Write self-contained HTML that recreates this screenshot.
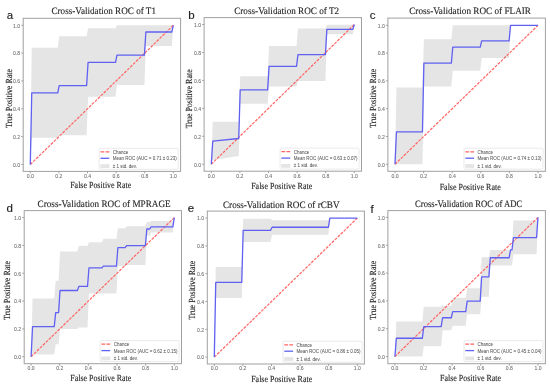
<!DOCTYPE html>
<html><head><meta charset="utf-8"><style>
html,body{margin:0;padding:0;background:#fff;width:550px;height:386px;overflow:hidden}
svg{display:block;will-change:transform}
.tk{font-family:"Liberation Sans",sans-serif;font-size:5.1px;fill:#707070;stroke:#707070;stroke-width:0.08}
.lg{font-family:"Liberation Sans",sans-serif;font-size:4.5px;fill:#555;stroke:#555;stroke-width:0.04}
.ti{font-family:"Liberation Serif",serif;font-size:9.8px;fill:#262626;stroke:#262626;stroke-width:0.14;text-rendering:geometricPrecision}
.xl{font-family:"Liberation Serif",serif;font-size:9.3px;fill:#262626;stroke:#262626;stroke-width:0.14;text-rendering:geometricPrecision}
.pl{font-family:"Liberation Sans",sans-serif;font-size:11.5px;fill:#222;stroke:#222;stroke-width:0.15}
</style></head><body>
<svg width="550" height="386" viewBox="0 0 550 386">
<polygon fill="#e5e5e5" points="30.30,164.50 31.74,47.71 57.74,47.71 59.19,36.30 86.63,36.30 88.08,28.22 115.52,28.22 116.97,25.30 144.41,25.30 145.86,25.30 171.86,25.30 173.30,25.30 173.30,25.30 171.86,45.90 145.86,45.90 144.41,85.02 116.97,85.02 115.52,96.71 88.08,96.71 86.63,135.13 59.19,135.13 57.74,137.63 31.74,137.63 30.30,164.50"/>
<line x1="30.30" y1="164.50" x2="173.30" y2="25.30" stroke="#ff6464" stroke-width="1.2" stroke-dasharray="2.9 1.2"/>
<polyline fill="none" stroke="#6060f2" stroke-width="1.3" stroke-linejoin="round" points="30.30,164.50 31.74,92.81 57.74,92.81 59.19,85.57 86.63,85.57 88.08,62.33 115.52,62.33 116.97,55.09 144.41,55.09 145.86,31.98 171.86,31.98 173.30,25.30"/>
<rect x="23.20" y="18.30" width="157.40" height="153.10" fill="none" stroke="#a0a0a0" stroke-width="1"/>
<line x1="30.30" y1="171.40" x2="30.30" y2="173.40" stroke="#909090" stroke-width="0.8"/>
<line x1="23.20" y1="164.50" x2="21.20" y2="164.50" stroke="#909090" stroke-width="0.8"/>
<text class="tk" x="30.30" y="177.70" text-anchor="middle">0.0</text>
<text class="tk" x="20.10" y="166.80" text-anchor="end">0.0</text>
<line x1="58.90" y1="171.40" x2="58.90" y2="173.40" stroke="#909090" stroke-width="0.8"/>
<line x1="23.20" y1="136.66" x2="21.20" y2="136.66" stroke="#909090" stroke-width="0.8"/>
<text class="tk" x="58.90" y="177.70" text-anchor="middle">0.2</text>
<text class="tk" x="20.10" y="138.96" text-anchor="end">0.2</text>
<line x1="87.50" y1="171.40" x2="87.50" y2="173.40" stroke="#909090" stroke-width="0.8"/>
<line x1="23.20" y1="108.82" x2="21.20" y2="108.82" stroke="#909090" stroke-width="0.8"/>
<text class="tk" x="87.50" y="177.70" text-anchor="middle">0.4</text>
<text class="tk" x="20.10" y="111.12" text-anchor="end">0.4</text>
<line x1="116.10" y1="171.40" x2="116.10" y2="173.40" stroke="#909090" stroke-width="0.8"/>
<line x1="23.20" y1="80.98" x2="21.20" y2="80.98" stroke="#909090" stroke-width="0.8"/>
<text class="tk" x="116.10" y="177.70" text-anchor="middle">0.6</text>
<text class="tk" x="20.10" y="83.28" text-anchor="end">0.6</text>
<line x1="144.70" y1="171.40" x2="144.70" y2="173.40" stroke="#909090" stroke-width="0.8"/>
<line x1="23.20" y1="53.14" x2="21.20" y2="53.14" stroke="#909090" stroke-width="0.8"/>
<text class="tk" x="144.70" y="177.70" text-anchor="middle">0.8</text>
<text class="tk" x="20.10" y="55.44" text-anchor="end">0.8</text>
<line x1="173.30" y1="171.40" x2="173.30" y2="173.40" stroke="#909090" stroke-width="0.8"/>
<line x1="23.20" y1="25.30" x2="21.20" y2="25.30" stroke="#909090" stroke-width="0.8"/>
<text class="tk" x="173.30" y="177.70" text-anchor="middle">1.0</text>
<text class="tk" x="20.10" y="27.60" text-anchor="end">1.0</text>
<rect x="99.20" y="148.30" width="79" height="21" rx="1" fill="#fff" fill-opacity="0.85" stroke="#dcdcdc" stroke-width="0.6"/>
<line x1="100.50" y1="151.90" x2="109.30" y2="151.90" stroke="#ff6464" stroke-width="1.2" stroke-dasharray="3.8 1.2"/>
<line x1="100.50" y1="158.30" x2="109.30" y2="158.30" stroke="#6060f2" stroke-width="1.3"/>
<rect x="100.40" y="164.20" width="9" height="3.8" fill="#e5e5e5"/>
<text class="lg" x="112.80" y="154.10">Chance</text>
<text class="lg" x="112.80" y="160.20">Mean ROC (AUC = 0.71 ± 0.23)</text>
<text class="lg" x="112.80" y="167.60">± 1 std. dev.</text>
<text class="ti" x="51.50" y="13.90" textLength="104.50" lengthAdjust="spacingAndGlyphs">Cross-Validation ROC of T1</text>
<text class="xl" x="70.20" y="187.90" textLength="61" lengthAdjust="spacingAndGlyphs">False Positive Rate</text>
<text class="xl" transform="translate(12.00 128.00) rotate(-90)" textLength="59" lengthAdjust="spacingAndGlyphs">True Positive Rate</text>
<text class="pl" x="6.80" y="19.40">a</text>
<polygon fill="#e5e5e5" points="211.30,164.20 212.74,121.87 238.74,121.87 240.19,76.19 267.63,76.19 269.08,46.01 296.52,46.01 297.97,28.41 325.41,28.41 326.86,24.78 352.86,24.78 354.30,24.50 354.30,24.50 352.86,34.28 326.86,34.28 325.41,81.08 297.97,81.08 296.52,86.53 269.08,86.53 267.63,103.71 240.19,103.71 238.74,156.10 212.74,160.01 211.30,164.20"/>
<line x1="211.30" y1="164.20" x2="354.30" y2="24.50" stroke="#ff6464" stroke-width="1.2" stroke-dasharray="2.9 1.2"/>
<polyline fill="none" stroke="#6060f2" stroke-width="1.3" stroke-linejoin="round" points="211.30,164.20 212.74,141.15 238.74,138.50 240.19,89.88 267.63,89.88 269.08,66.41 296.52,66.41 297.97,54.68 325.41,54.68 326.86,29.39 352.86,29.39 354.30,24.50"/>
<rect x="204.10" y="17.60" width="157.40" height="153.60" fill="none" stroke="#a0a0a0" stroke-width="1"/>
<line x1="211.30" y1="171.20" x2="211.30" y2="173.20" stroke="#909090" stroke-width="0.8"/>
<line x1="204.10" y1="164.20" x2="202.10" y2="164.20" stroke="#909090" stroke-width="0.8"/>
<text class="tk" x="211.30" y="177.50" text-anchor="middle">0.0</text>
<text class="tk" x="201.00" y="166.50" text-anchor="end">0.0</text>
<line x1="239.90" y1="171.20" x2="239.90" y2="173.20" stroke="#909090" stroke-width="0.8"/>
<line x1="204.10" y1="136.26" x2="202.10" y2="136.26" stroke="#909090" stroke-width="0.8"/>
<text class="tk" x="239.90" y="177.50" text-anchor="middle">0.2</text>
<text class="tk" x="201.00" y="138.56" text-anchor="end">0.2</text>
<line x1="268.50" y1="171.20" x2="268.50" y2="173.20" stroke="#909090" stroke-width="0.8"/>
<line x1="204.10" y1="108.32" x2="202.10" y2="108.32" stroke="#909090" stroke-width="0.8"/>
<text class="tk" x="268.50" y="177.50" text-anchor="middle">0.4</text>
<text class="tk" x="201.00" y="110.62" text-anchor="end">0.4</text>
<line x1="297.10" y1="171.20" x2="297.10" y2="173.20" stroke="#909090" stroke-width="0.8"/>
<line x1="204.10" y1="80.38" x2="202.10" y2="80.38" stroke="#909090" stroke-width="0.8"/>
<text class="tk" x="297.10" y="177.50" text-anchor="middle">0.6</text>
<text class="tk" x="201.00" y="82.68" text-anchor="end">0.6</text>
<line x1="325.70" y1="171.20" x2="325.70" y2="173.20" stroke="#909090" stroke-width="0.8"/>
<line x1="204.10" y1="52.44" x2="202.10" y2="52.44" stroke="#909090" stroke-width="0.8"/>
<text class="tk" x="325.70" y="177.50" text-anchor="middle">0.8</text>
<text class="tk" x="201.00" y="54.74" text-anchor="end">0.8</text>
<line x1="354.30" y1="171.20" x2="354.30" y2="173.20" stroke="#909090" stroke-width="0.8"/>
<line x1="204.10" y1="24.50" x2="202.10" y2="24.50" stroke="#909090" stroke-width="0.8"/>
<text class="tk" x="354.30" y="177.50" text-anchor="middle">1.0</text>
<text class="tk" x="201.00" y="26.80" text-anchor="end">1.0</text>
<rect x="280.10" y="148.10" width="79" height="21" rx="1" fill="#fff" fill-opacity="0.85" stroke="#dcdcdc" stroke-width="0.6"/>
<line x1="281.40" y1="151.70" x2="290.20" y2="151.70" stroke="#ff6464" stroke-width="1.2" stroke-dasharray="3.8 1.2"/>
<line x1="281.40" y1="158.10" x2="290.20" y2="158.10" stroke="#6060f2" stroke-width="1.3"/>
<rect x="281.30" y="164.00" width="9" height="3.8" fill="#e5e5e5"/>
<text class="lg" x="293.70" y="153.90">Chance</text>
<text class="lg" x="293.70" y="160.00">Mean ROC (AUC = 0.63 ± 0.07)</text>
<text class="lg" x="293.70" y="167.40">± 1 std. dev.</text>
<text class="ti" x="234.20" y="13.90" textLength="105.00" lengthAdjust="spacingAndGlyphs">Cross-Validation ROC of T2</text>
<text class="xl" x="251.20" y="189.10" textLength="61" lengthAdjust="spacingAndGlyphs">False Positive Rate</text>
<text class="xl" transform="translate(192.40 128.30) rotate(-90)" textLength="59" lengthAdjust="spacingAndGlyphs">True Positive Rate</text>
<text class="pl" x="188.20" y="19.40">b</text>
<polygon fill="#e5e5e5" points="395.00,164.30 396.44,87.57 422.44,87.57 423.89,39.34 451.33,39.34 452.78,25.30 480.22,25.30 481.67,25.30 509.11,25.30 510.56,25.30 536.56,25.30 538.00,25.30 538.00,25.30 536.56,25.30 510.56,25.30 509.11,57.97 481.67,57.97 480.22,70.75 452.78,70.75 451.33,86.60 423.89,86.60 422.44,164.30 396.44,164.30 395.00,164.30"/>
<line x1="395.00" y1="164.30" x2="538.00" y2="25.30" stroke="#ff6464" stroke-width="1.2" stroke-dasharray="2.9 1.2"/>
<polyline fill="none" stroke="#6060f2" stroke-width="1.3" stroke-linejoin="round" points="395.00,164.30 396.44,131.91 422.44,131.91 423.89,63.11 451.33,63.11 452.78,47.12 480.22,47.12 481.67,40.87 509.11,40.87 510.56,25.30 536.56,25.30 538.00,25.30"/>
<rect x="387.90" y="18.10" width="157.50" height="153.20" fill="none" stroke="#a0a0a0" stroke-width="1"/>
<line x1="395.00" y1="171.30" x2="395.00" y2="173.30" stroke="#909090" stroke-width="0.8"/>
<line x1="387.90" y1="164.30" x2="385.90" y2="164.30" stroke="#909090" stroke-width="0.8"/>
<text class="tk" x="395.00" y="177.60" text-anchor="middle">0.0</text>
<text class="tk" x="384.80" y="166.60" text-anchor="end">0.0</text>
<line x1="423.60" y1="171.30" x2="423.60" y2="173.30" stroke="#909090" stroke-width="0.8"/>
<line x1="387.90" y1="136.50" x2="385.90" y2="136.50" stroke="#909090" stroke-width="0.8"/>
<text class="tk" x="423.60" y="177.60" text-anchor="middle">0.2</text>
<text class="tk" x="384.80" y="138.80" text-anchor="end">0.2</text>
<line x1="452.20" y1="171.30" x2="452.20" y2="173.30" stroke="#909090" stroke-width="0.8"/>
<line x1="387.90" y1="108.70" x2="385.90" y2="108.70" stroke="#909090" stroke-width="0.8"/>
<text class="tk" x="452.20" y="177.60" text-anchor="middle">0.4</text>
<text class="tk" x="384.80" y="111.00" text-anchor="end">0.4</text>
<line x1="480.80" y1="171.30" x2="480.80" y2="173.30" stroke="#909090" stroke-width="0.8"/>
<line x1="387.90" y1="80.90" x2="385.90" y2="80.90" stroke="#909090" stroke-width="0.8"/>
<text class="tk" x="480.80" y="177.60" text-anchor="middle">0.6</text>
<text class="tk" x="384.80" y="83.20" text-anchor="end">0.6</text>
<line x1="509.40" y1="171.30" x2="509.40" y2="173.30" stroke="#909090" stroke-width="0.8"/>
<line x1="387.90" y1="53.10" x2="385.90" y2="53.10" stroke="#909090" stroke-width="0.8"/>
<text class="tk" x="509.40" y="177.60" text-anchor="middle">0.8</text>
<text class="tk" x="384.80" y="55.40" text-anchor="end">0.8</text>
<line x1="538.00" y1="171.30" x2="538.00" y2="173.30" stroke="#909090" stroke-width="0.8"/>
<line x1="387.90" y1="25.30" x2="385.90" y2="25.30" stroke="#909090" stroke-width="0.8"/>
<text class="tk" x="538.00" y="177.60" text-anchor="middle">1.0</text>
<text class="tk" x="384.80" y="27.60" text-anchor="end">1.0</text>
<rect x="464.00" y="148.20" width="79" height="21" rx="1" fill="#fff" fill-opacity="0.85" stroke="#dcdcdc" stroke-width="0.6"/>
<line x1="465.30" y1="151.80" x2="474.10" y2="151.80" stroke="#ff6464" stroke-width="1.2" stroke-dasharray="3.8 1.2"/>
<line x1="465.30" y1="158.20" x2="474.10" y2="158.20" stroke="#6060f2" stroke-width="1.3"/>
<rect x="465.20" y="164.10" width="9" height="3.8" fill="#e5e5e5"/>
<text class="lg" x="477.60" y="154.00">Chance</text>
<text class="lg" x="477.60" y="160.10">Mean ROC (AUC = 0.74 ± 0.13)</text>
<text class="lg" x="477.60" y="167.50">± 1 std. dev.</text>
<text class="ti" x="409.20" y="13.90" textLength="121.80" lengthAdjust="spacingAndGlyphs">Cross-Validation ROC of FLAIR</text>
<text class="xl" x="439.70" y="189.60" textLength="61" lengthAdjust="spacingAndGlyphs">False Positive Rate</text>
<text class="xl" transform="translate(375.50 127.80) rotate(-90)" textLength="59" lengthAdjust="spacingAndGlyphs">True Positive Rate</text>
<text class="pl" x="369.80" y="19.40">c</text>
<polygon fill="#e5e5e5" points="31.10,356.70 32.55,298.56 54.24,298.56 55.69,280.75 58.58,280.75 60.03,251.54 77.39,251.54 78.83,245.84 87.51,245.84 88.96,242.36 101.98,242.36 103.42,238.74 116.44,238.74 117.89,228.31 125.12,228.31 126.57,226.36 145.37,226.36 146.82,222.05 149.71,222.05 151.16,220.94 172.85,220.94 174.30,217.60 174.30,217.60 172.85,232.62 151.16,232.62 149.71,235.68 146.82,235.68 145.37,264.89 126.57,264.89 125.12,266.28 117.89,266.28 116.44,293.55 103.42,293.55 101.98,293.55 88.96,293.55 87.51,327.49 78.83,327.49 77.39,328.88 60.03,328.88 58.58,344.18 55.69,344.18 54.24,354.61 32.55,354.61 31.10,356.70"/>
<line x1="31.10" y1="356.70" x2="174.30" y2="217.60" stroke="#ff6464" stroke-width="1.2" stroke-dasharray="2.9 1.2"/>
<polyline fill="none" stroke="#6060f2" stroke-width="1.3" stroke-linejoin="round" points="31.10,356.70 32.55,326.65 54.24,326.65 55.69,312.61 58.58,312.61 60.03,290.49 77.39,290.49 78.83,286.45 87.51,286.45 88.96,267.95 101.98,267.95 103.42,266.15 116.44,266.15 117.89,247.65 125.12,247.65 126.57,245.56 145.37,245.56 146.82,229.01 149.71,229.01 151.16,226.78 172.85,226.78 174.30,217.60"/>
<rect x="24.20" y="210.60" width="157.30" height="153.10" fill="none" stroke="#a0a0a0" stroke-width="1"/>
<line x1="31.10" y1="363.70" x2="31.10" y2="365.70" stroke="#909090" stroke-width="0.8"/>
<line x1="24.20" y1="356.70" x2="22.20" y2="356.70" stroke="#909090" stroke-width="0.8"/>
<text class="tk" x="31.10" y="370.00" text-anchor="middle">0.0</text>
<text class="tk" x="21.10" y="359.00" text-anchor="end">0.0</text>
<line x1="59.74" y1="363.70" x2="59.74" y2="365.70" stroke="#909090" stroke-width="0.8"/>
<line x1="24.20" y1="328.88" x2="22.20" y2="328.88" stroke="#909090" stroke-width="0.8"/>
<text class="tk" x="59.74" y="370.00" text-anchor="middle">0.2</text>
<text class="tk" x="21.10" y="331.18" text-anchor="end">0.2</text>
<line x1="88.38" y1="363.70" x2="88.38" y2="365.70" stroke="#909090" stroke-width="0.8"/>
<line x1="24.20" y1="301.06" x2="22.20" y2="301.06" stroke="#909090" stroke-width="0.8"/>
<text class="tk" x="88.38" y="370.00" text-anchor="middle">0.4</text>
<text class="tk" x="21.10" y="303.36" text-anchor="end">0.4</text>
<line x1="117.02" y1="363.70" x2="117.02" y2="365.70" stroke="#909090" stroke-width="0.8"/>
<line x1="24.20" y1="273.24" x2="22.20" y2="273.24" stroke="#909090" stroke-width="0.8"/>
<text class="tk" x="117.02" y="370.00" text-anchor="middle">0.6</text>
<text class="tk" x="21.10" y="275.54" text-anchor="end">0.6</text>
<line x1="145.66" y1="363.70" x2="145.66" y2="365.70" stroke="#909090" stroke-width="0.8"/>
<line x1="24.20" y1="245.42" x2="22.20" y2="245.42" stroke="#909090" stroke-width="0.8"/>
<text class="tk" x="145.66" y="370.00" text-anchor="middle">0.8</text>
<text class="tk" x="21.10" y="247.72" text-anchor="end">0.8</text>
<line x1="174.30" y1="363.70" x2="174.30" y2="365.70" stroke="#909090" stroke-width="0.8"/>
<line x1="24.20" y1="217.60" x2="22.20" y2="217.60" stroke="#909090" stroke-width="0.8"/>
<text class="tk" x="174.30" y="370.00" text-anchor="middle">1.0</text>
<text class="tk" x="21.10" y="219.90" text-anchor="end">1.0</text>
<rect x="100.10" y="340.60" width="79" height="21" rx="1" fill="#fff" fill-opacity="0.85" stroke="#dcdcdc" stroke-width="0.6"/>
<line x1="101.40" y1="344.20" x2="110.20" y2="344.20" stroke="#ff6464" stroke-width="1.2" stroke-dasharray="3.8 1.2"/>
<line x1="101.40" y1="350.60" x2="110.20" y2="350.60" stroke="#6060f2" stroke-width="1.3"/>
<rect x="101.30" y="356.50" width="9" height="3.8" fill="#e5e5e5"/>
<text class="lg" x="113.70" y="346.40">Chance</text>
<text class="lg" x="113.70" y="352.50">Mean ROC (AUC = 0.62 ± 0.15)</text>
<text class="lg" x="113.70" y="359.90">± 1 std. dev.</text>
<text class="ti" x="37.60" y="207.00" textLength="133.00" lengthAdjust="spacingAndGlyphs">Cross-Validation ROC of MPRAGE</text>
<text class="xl" x="70.30" y="381.00" textLength="61" lengthAdjust="spacingAndGlyphs">False Positive Rate</text>
<text class="xl" transform="translate(10.40 320.00) rotate(-90)" textLength="59" lengthAdjust="spacingAndGlyphs">True Positive Rate</text>
<text class="pl" x="6.50" y="212.20">d</text>
<polygon fill="#e5e5e5" points="214.30,357.10 215.74,267.03 241.74,267.03 243.19,218.66 270.63,218.66 272.08,220.19 328.41,220.19 329.86,218.10 355.86,218.10 357.30,218.10 357.30,218.10 355.86,218.10 329.86,218.10 328.41,234.64 272.08,234.64 270.63,242.01 243.19,242.01 241.74,298.03 215.74,298.03 214.30,357.10"/>
<line x1="214.30" y1="357.10" x2="357.30" y2="218.10" stroke="#ff6464" stroke-width="1.2" stroke-dasharray="2.9 1.2"/>
<polyline fill="none" stroke="#6060f2" stroke-width="1.3" stroke-linejoin="round" points="214.30,357.10 215.74,282.46 241.74,282.46 243.19,230.33 270.63,230.33 272.08,227.27 328.41,227.27 329.86,218.10 355.86,218.10 357.30,218.10"/>
<rect x="207.30" y="211.10" width="157.10" height="152.90" fill="none" stroke="#a0a0a0" stroke-width="1"/>
<line x1="214.30" y1="364.00" x2="214.30" y2="366.00" stroke="#909090" stroke-width="0.8"/>
<line x1="207.30" y1="357.10" x2="205.30" y2="357.10" stroke="#909090" stroke-width="0.8"/>
<text class="tk" x="214.30" y="370.30" text-anchor="middle">0.0</text>
<text class="tk" x="204.20" y="359.40" text-anchor="end">0.0</text>
<line x1="242.90" y1="364.00" x2="242.90" y2="366.00" stroke="#909090" stroke-width="0.8"/>
<line x1="207.30" y1="329.30" x2="205.30" y2="329.30" stroke="#909090" stroke-width="0.8"/>
<text class="tk" x="242.90" y="370.30" text-anchor="middle">0.2</text>
<text class="tk" x="204.20" y="331.60" text-anchor="end">0.2</text>
<line x1="271.50" y1="364.00" x2="271.50" y2="366.00" stroke="#909090" stroke-width="0.8"/>
<line x1="207.30" y1="301.50" x2="205.30" y2="301.50" stroke="#909090" stroke-width="0.8"/>
<text class="tk" x="271.50" y="370.30" text-anchor="middle">0.4</text>
<text class="tk" x="204.20" y="303.80" text-anchor="end">0.4</text>
<line x1="300.10" y1="364.00" x2="300.10" y2="366.00" stroke="#909090" stroke-width="0.8"/>
<line x1="207.30" y1="273.70" x2="205.30" y2="273.70" stroke="#909090" stroke-width="0.8"/>
<text class="tk" x="300.10" y="370.30" text-anchor="middle">0.6</text>
<text class="tk" x="204.20" y="276.00" text-anchor="end">0.6</text>
<line x1="328.70" y1="364.00" x2="328.70" y2="366.00" stroke="#909090" stroke-width="0.8"/>
<line x1="207.30" y1="245.90" x2="205.30" y2="245.90" stroke="#909090" stroke-width="0.8"/>
<text class="tk" x="328.70" y="370.30" text-anchor="middle">0.8</text>
<text class="tk" x="204.20" y="248.20" text-anchor="end">0.8</text>
<line x1="357.30" y1="364.00" x2="357.30" y2="366.00" stroke="#909090" stroke-width="0.8"/>
<line x1="207.30" y1="218.10" x2="205.30" y2="218.10" stroke="#909090" stroke-width="0.8"/>
<text class="tk" x="357.30" y="370.30" text-anchor="middle">1.0</text>
<text class="tk" x="204.20" y="220.40" text-anchor="end">1.0</text>
<rect x="283.00" y="341.20" width="79" height="21" rx="1" fill="#fff" fill-opacity="0.85" stroke="#dcdcdc" stroke-width="0.6"/>
<line x1="284.30" y1="344.80" x2="293.10" y2="344.80" stroke="#ff6464" stroke-width="1.2" stroke-dasharray="3.8 1.2"/>
<line x1="284.30" y1="351.20" x2="293.10" y2="351.20" stroke="#6060f2" stroke-width="1.3"/>
<rect x="284.20" y="357.10" width="9" height="3.8" fill="#e5e5e5"/>
<text class="lg" x="296.60" y="347.00">Chance</text>
<text class="lg" x="296.60" y="353.10">Mean ROC (AUC = 0.86 ± 0.05)</text>
<text class="lg" x="296.60" y="360.50">± 1 std. dev.</text>
<text class="ti" x="223.00" y="207.60" textLength="116.50" lengthAdjust="spacingAndGlyphs">Cross-Validation ROC of rCBV</text>
<text class="xl" x="251.20" y="382.20" textLength="61" lengthAdjust="spacingAndGlyphs">False Positive Rate</text>
<text class="xl" transform="translate(195.30 319.60) rotate(-90)" textLength="59" lengthAdjust="spacingAndGlyphs">True Positive Rate</text>
<text class="pl" x="187.80" y="212.30">e</text>
<polygon fill="#e5e5e5" points="394.90,356.60 396.35,321.38 422.36,321.38 423.81,306.63 441.15,306.63 442.60,305.65 451.27,305.65 452.72,297.86 465.73,297.86 467.17,288.25 480.18,288.25 481.63,257.21 488.85,257.21 490.30,249.97 509.09,249.97 510.54,249.97 511.98,249.97 513.43,220.46 536.55,220.46 538.00,217.40 538.00,217.40 536.55,254.29 513.43,254.29 511.98,265.56 510.54,265.56 509.09,265.56 490.30,265.56 488.85,296.74 481.63,296.74 480.18,314.14 467.17,314.14 465.73,325.70 452.72,325.70 451.27,330.15 442.60,330.15 441.15,346.30 423.81,346.30 422.36,356.60 396.35,356.60 394.90,356.60"/>
<line x1="394.90" y1="356.60" x2="538.00" y2="217.40" stroke="#ff6464" stroke-width="1.2" stroke-dasharray="2.9 1.2"/>
<polyline fill="none" stroke="#6060f2" stroke-width="1.3" stroke-linejoin="round" points="394.90,356.60 396.35,338.23 422.36,338.23 423.81,326.53 441.15,326.53 442.60,317.76 451.27,317.76 452.72,311.64 465.73,311.64 467.17,301.20 480.18,301.20 481.63,276.84 488.85,276.84 490.30,257.77 509.09,257.77 510.54,249.97 511.98,249.97 513.43,237.58 536.55,237.58 538.00,217.40"/>
<rect x="387.90" y="210.60" width="157.50" height="153.10" fill="none" stroke="#a0a0a0" stroke-width="1"/>
<line x1="394.90" y1="363.70" x2="394.90" y2="365.70" stroke="#909090" stroke-width="0.8"/>
<line x1="387.90" y1="356.60" x2="385.90" y2="356.60" stroke="#909090" stroke-width="0.8"/>
<text class="tk" x="394.90" y="370.00" text-anchor="middle">0.0</text>
<text class="tk" x="384.80" y="358.90" text-anchor="end">0.0</text>
<line x1="423.52" y1="363.70" x2="423.52" y2="365.70" stroke="#909090" stroke-width="0.8"/>
<line x1="387.90" y1="328.76" x2="385.90" y2="328.76" stroke="#909090" stroke-width="0.8"/>
<text class="tk" x="423.52" y="370.00" text-anchor="middle">0.2</text>
<text class="tk" x="384.80" y="331.06" text-anchor="end">0.2</text>
<line x1="452.14" y1="363.70" x2="452.14" y2="365.70" stroke="#909090" stroke-width="0.8"/>
<line x1="387.90" y1="300.92" x2="385.90" y2="300.92" stroke="#909090" stroke-width="0.8"/>
<text class="tk" x="452.14" y="370.00" text-anchor="middle">0.4</text>
<text class="tk" x="384.80" y="303.22" text-anchor="end">0.4</text>
<line x1="480.76" y1="363.70" x2="480.76" y2="365.70" stroke="#909090" stroke-width="0.8"/>
<line x1="387.90" y1="273.08" x2="385.90" y2="273.08" stroke="#909090" stroke-width="0.8"/>
<text class="tk" x="480.76" y="370.00" text-anchor="middle">0.6</text>
<text class="tk" x="384.80" y="275.38" text-anchor="end">0.6</text>
<line x1="509.38" y1="363.70" x2="509.38" y2="365.70" stroke="#909090" stroke-width="0.8"/>
<line x1="387.90" y1="245.24" x2="385.90" y2="245.24" stroke="#909090" stroke-width="0.8"/>
<text class="tk" x="509.38" y="370.00" text-anchor="middle">0.8</text>
<text class="tk" x="384.80" y="247.54" text-anchor="end">0.8</text>
<line x1="538.00" y1="363.70" x2="538.00" y2="365.70" stroke="#909090" stroke-width="0.8"/>
<line x1="387.90" y1="217.40" x2="385.90" y2="217.40" stroke="#909090" stroke-width="0.8"/>
<text class="tk" x="538.00" y="370.00" text-anchor="middle">1.0</text>
<text class="tk" x="384.80" y="219.70" text-anchor="end">1.0</text>
<rect x="464.00" y="340.60" width="79" height="21" rx="1" fill="#fff" fill-opacity="0.85" stroke="#dcdcdc" stroke-width="0.6"/>
<line x1="465.30" y1="344.20" x2="474.10" y2="344.20" stroke="#ff6464" stroke-width="1.2" stroke-dasharray="3.8 1.2"/>
<line x1="465.30" y1="350.60" x2="474.10" y2="350.60" stroke="#6060f2" stroke-width="1.3"/>
<rect x="465.20" y="356.50" width="9" height="3.8" fill="#e5e5e5"/>
<text class="lg" x="477.60" y="346.40">Chance</text>
<text class="lg" x="477.60" y="352.50">Mean ROC (AUC = 0.45 ± 0.04)</text>
<text class="lg" x="477.60" y="359.90">± 1 std. dev.</text>
<text class="ti" x="415.00" y="207.00" textLength="107.30" lengthAdjust="spacingAndGlyphs">Cross-Validation ROC of ADC</text>
<text class="xl" x="440.00" y="381.40" textLength="61" lengthAdjust="spacingAndGlyphs">False Positive Rate</text>
<text class="xl" transform="translate(375.50 319.80) rotate(-90)" textLength="59" lengthAdjust="spacingAndGlyphs">True Positive Rate</text>
<text class="pl" x="370.60" y="212.50">f</text>
</svg></body></html>
